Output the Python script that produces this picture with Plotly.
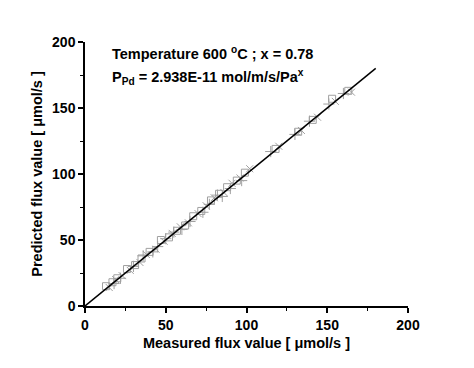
import plotly.graph_objects as go

# Measured vs predicted flux (µmol/s)
measured_a = [13, 17, 20, 26, 31, 35, 40, 47, 52, 57, 62, 67, 72, 78, 83, 88, 94, 99, 118, 132, 141, 153, 163]
predicted_a = [15, 18, 21, 28, 31, 36, 41, 50, 52, 57, 61, 68, 72, 80, 85, 90, 95, 101, 119, 132, 141, 157, 163]
measured_b = [15, 19, 23, 28, 34, 38, 44, 49, 54, 59, 64, 70, 75, 80, 86, 91, 96, 102, 120, 134, 144, 155, 165]
predicted_b = [14, 20, 23, 27, 33, 39, 43, 49, 55, 60, 63, 70, 76, 82, 86, 93, 97, 104, 121, 133, 143, 155, 162]
measured_c = [18, 22, 30, 36, 42, 45, 50, 55, 60, 65, 73, 77, 82, 85, 90, 97, 115, 130, 139, 151, 160]
predicted_c = [17, 21, 30, 38, 41, 45, 51, 56, 58, 64, 71, 77, 84, 83, 89, 95, 117, 130, 140, 153, 161]
line_x = [0, 180]
line_y = [0, 180]

x_ticks = [0, 50, 100, 150, 200]
y_ticks = [0, 50, 100, 150, 200]

fig = go.Figure()
marker_col = "#a0a0a0"
fig.add_trace(go.Scatter(x=measured_a, y=predicted_a, mode="markers",
                         marker=dict(symbol="square-open", size=7, color=marker_col, line=dict(width=1, color=marker_col))))
fig.add_trace(go.Scatter(x=measured_b, y=predicted_b, mode="markers",
                         marker=dict(symbol="x-thin-open", size=7, color=marker_col, line=dict(width=1, color=marker_col))))
fig.add_trace(go.Scatter(x=measured_c, y=predicted_c, mode="markers",
                         marker=dict(symbol="cross-thin-open", size=8, color=marker_col, line=dict(width=1, color=marker_col))))
fig.add_trace(go.Scatter(x=line_x, y=line_y, mode="lines", line=dict(color="black", width=1.5)))

font = "Liberation Sans, Arial, sans-serif"
fig.update_layout(
    width=474, height=368,
    margin=dict(l=77, r=74, t=34, b=70),
    paper_bgcolor="white", plot_bgcolor="white",
    showlegend=False,
    font=dict(family=font, size=13, color="black"),
    xaxis=dict(range=[0, 200], tickvals=x_ticks, ticktext=[f"<b>{v}</b>" for v in x_ticks],
               automargin=False,
               showgrid=False, zeroline=False, showline=True, linecolor="black", linewidth=1.5,
               ticks="outside", ticklen=5, tickwidth=1.5, tickcolor="black",
               minor=dict(ticks="outside", dtick=25, tick0=0, ticklen=3, tickwidth=1, tickcolor="black"),
               tickfont=dict(size=14, family=font),
               title=dict(text="<b>Measured flux value [ μmol/s ]</b>", font=dict(size=14.5, family=font), standoff=6)),
    yaxis=dict(range=[0, 200], tickvals=y_ticks, ticktext=[f"<b>{v}</b>" for v in y_ticks],
               automargin=False,
               showgrid=False, zeroline=False, showline=True, linecolor="black", linewidth=1.5,
               ticks="outside", ticklen=5, tickwidth=1.5, tickcolor="black",
               minor=dict(ticks="outside", dtick=25, tick0=0, ticklen=3, tickwidth=1, tickcolor="black"),
               tickfont=dict(size=14, family=font),
               title=dict(text="<b>Predicted flux value [ μmol/s ]</b>", font=dict(size=14.5, family=font), standoff=6)),
    annotations=[
        dict(x=0.077, y=0.958, xref="paper", yref="paper", xanchor="left", yanchor="middle", showarrow=False,
             text="<b>Temperature 600 <sup>o</sup>C ; x = 0.78</b>", font=dict(size=14.5, family=font)),
        dict(x=0.077, y=0.868, xref="paper", yref="paper", xanchor="left", yanchor="middle", showarrow=False,
             text="<b>P<sub>Pd</sub> = 2.938E-11 mol/m/s/Pa<sup>x</sup></b>", font=dict(size=14.5, family=font)),
    ],
)

fig.write_html("out.html")
